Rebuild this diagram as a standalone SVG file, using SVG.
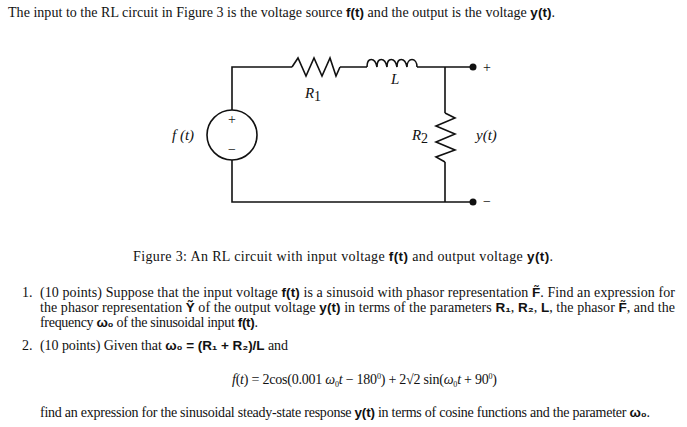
<svg xmlns="http://www.w3.org/2000/svg" width="687" height="427" viewBox="0 0 687 427">
<style>
.t{font-family:"Liberation Serif",serif;font-size:14px;fill:#111}
.s{font-family:"Liberation Sans",sans-serif;font-size:13.5px;font-weight:bold;fill:#111}
.i{font-family:"Liberation Serif",serif;font-style:italic;font-size:15px;fill:#111}
.w{fill:none;stroke:#111;stroke-width:1.6}
</style>
<rect width="687" height="427" fill="#fff"/>
<text class="t" x="8" y="17" textLength="547" lengthAdjust="spacing">The input to the RL circuit in Figure 3 is the voltage source <tspan class="s">f(t)</tspan> and the output is the voltage <tspan class="s">y(t)</tspan>.</text>
<g id="connectors">
<path class="w" d="M232,110 V67 H292 M340,67 H367 M417,67 H473 M445,67 V113 M445,162 V202 M232,160 V202 H473"/>
</g>
<g id="source"><circle class="w" cx="232" cy="135" r="25"/><text class="t" x="232" y="124" text-anchor="middle" font-size="12">+</text><text class="t" x="232" y="154" text-anchor="middle" font-size="12">−</text><text class="i" x="172" y="140">f (t)</text></g>
<g id="R1"><path class="w" d="M292,67 L298,58 L306,76 L314,58 L322,76 L330,58 L336,76 L340,67"/><text class="i" x="305" y="98">R</text><text class="t" x="314" y="101" font-size="8">1</text></g>
<g id="L"><path class="w" d="M367,67 C367,57 375,57 377,67 C377,57 385,57 387,67 C387,57 395,57 397,67 C397,57 405,57 407,67 C407,57 417,57 417,67"/><text class="i" x="391" y="84">L</text></g>
<g id="R2"><path class="w" d="M445,113 L455,118 L436,126 L455,134 L436,142 L455,150 L436,157 L445,162"/><text class="i" x="412" y="140">R</text><text class="t" x="421" y="143" font-size="8">2</text></g>
<g id="terminals"><circle cx="473" cy="67" r="3.5" fill="#111"/><circle cx="473" cy="202" r="3.5" fill="#111"/><text class="t" x="483" y="72">+</text><text class="t" x="483" y="206">−</text><text class="i" x="476" y="140">y(t)</text></g>
<text class="t" x="133" y="261" textLength="420" lengthAdjust="spacing">Figure 3: An RL circuit with input voltage <tspan class="s">f(t)</tspan> and output voltage <tspan class="s">y(t)</tspan>.</text>
<text class="t" x="22" y="297">1.</text>
<text class="t" x="40" y="297" textLength="635" lengthAdjust="spacing">(10 points) Suppose that the input voltage <tspan class="s">f(t)</tspan> is a sinusoid with phasor representation <tspan class="s">F̃</tspan>. Find an expression for</text>
<text class="t" x="40" y="312" textLength="635" lengthAdjust="spacing">the phasor representation <tspan class="s">Ỹ</tspan> of the output voltage <tspan class="s">y(t)</tspan> in terms of the parameters <tspan class="s">R₁</tspan>, <tspan class="s">R₂</tspan>, <tspan class="s">L</tspan>, the phasor <tspan class="s">F̃</tspan>, and the</text>
<text class="t" x="40" y="327" textLength="218" lengthAdjust="spacing">frequency <tspan class="s">ω₀</tspan> of the sinusoidal input <tspan class="s">f(t)</tspan>.</text>
<text class="t" x="22" y="350">2.</text>
<text class="t" x="40" y="350" textLength="248" lengthAdjust="spacing">(10 points) Given that <tspan class="s">ω₀ = (R₁ + R₂)/L</tspan> and</text>
<text class="t" x="232" y="384" font-size="15" textLength="265" lengthAdjust="spacing"><tspan font-style="italic">f</tspan>(<tspan font-style="italic">t</tspan>) = 2cos(0.001 <tspan font-style="italic">ω</tspan><tspan font-size="8" dy="3">0</tspan><tspan font-style="italic" dy="-3">t</tspan> − 180<tspan font-size="8" dy="-5">0</tspan><tspan dy="5">) + 2√2 sin(</tspan><tspan font-style="italic">ω</tspan><tspan font-size="8" dy="3">0</tspan><tspan font-style="italic" dy="-3">t</tspan> + 90<tspan font-size="8" dy="-5">0</tspan><tspan dy="5">)</tspan></text>
<text class="t" x="40" y="417" textLength="610" lengthAdjust="spacing">find an expression for the sinusoidal steady-state response <tspan class="s">y(t)</tspan> in terms of cosine functions and the parameter <tspan class="s">ω₀</tspan>.</text>
</svg>
